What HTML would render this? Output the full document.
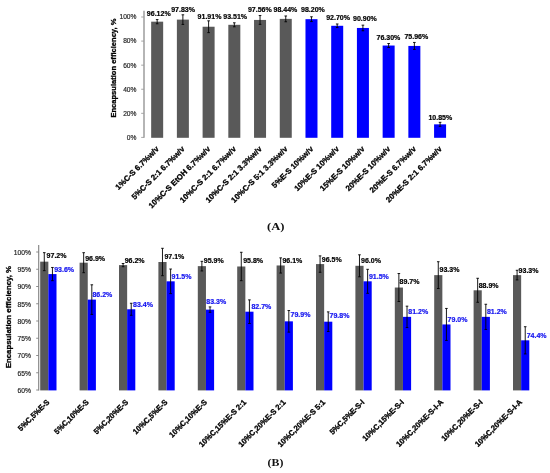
<!DOCTYPE html>
<html lang="en"><head><meta charset="utf-8"><title>Encapsulation efficiency</title>
<style>html,body{margin:0;padding:0;background:#fff}svg{display:block}.sans{font-family:"Liberation Sans",Arial,sans-serif}.serif{font-family:"Liberation Serif","Times New Roman",serif}</style></head>
<body>
<svg width="550" height="473" viewBox="0 0 550 473">
<rect width="550" height="473" fill="#fff"/>
<g class="sans">
<path d="M144.0 10.8V137.8" stroke="#9c9c9c" stroke-width="1.5" fill="none"/>
<path d="M141.2 137.40H144.0" stroke="#9c9c9c" stroke-width="0.9"/>
<text transform="translate(136.50 139.80) scale(0.92 1)" font-size="7.25" fill="#222" stroke="#222" stroke-width="0.18" text-anchor="end">0%</text>
<path d="M141.2 113.32H144.0" stroke="#9c9c9c" stroke-width="0.9"/>
<text transform="translate(136.50 115.72) scale(0.92 1)" font-size="7.25" fill="#222" stroke="#222" stroke-width="0.18" text-anchor="end">20%</text>
<path d="M141.2 89.24H144.0" stroke="#9c9c9c" stroke-width="0.9"/>
<text transform="translate(136.50 91.64) scale(0.92 1)" font-size="7.25" fill="#222" stroke="#222" stroke-width="0.18" text-anchor="end">40%</text>
<path d="M141.2 65.16H144.0" stroke="#9c9c9c" stroke-width="0.9"/>
<text transform="translate(136.50 67.56) scale(0.92 1)" font-size="7.25" fill="#222" stroke="#222" stroke-width="0.18" text-anchor="end">60%</text>
<path d="M141.2 41.08H144.0" stroke="#9c9c9c" stroke-width="0.9"/>
<text transform="translate(136.50 43.48) scale(0.92 1)" font-size="7.25" fill="#222" stroke="#222" stroke-width="0.18" text-anchor="end">80%</text>
<path d="M141.2 17.00H144.0" stroke="#9c9c9c" stroke-width="0.9"/>
<text transform="translate(136.50 19.40) scale(0.92 1)" font-size="7.25" fill="#222" stroke="#222" stroke-width="0.18" text-anchor="end">100%</text>
<text transform="translate(115.6 68.1) rotate(-90)" font-size="7.9" font-weight="bold" fill="#000" stroke="#000" stroke-width="0.3" text-anchor="middle" textLength="99" lengthAdjust="spacingAndGlyphs">Encapsulation efficiency, %</text>
<rect x="151.16" y="21.67" width="12.0" height="116.13" fill="#595959"/>
<path d="M157.16 19.57V23.77M155.86 19.57h2.6M155.86 23.77h2.6" stroke="#000" stroke-width="0.9" fill="none"/>
<text transform="translate(158.76 16.00) scale(0.97 1)" font-size="7.25" font-weight="bold" fill="#000" stroke="#000" stroke-width="0.2" text-anchor="middle">96.12%</text>
<text transform="translate(159.46 149.50) rotate(-45) scale(1.011 1)" font-size="7.8" font-weight="bold" fill="#000" stroke="#000" stroke-width="0.3" text-anchor="end">1%C-S 6.7%w/v</text>
<rect x="176.88" y="19.61" width="12.0" height="118.19" fill="#595959"/>
<path d="M182.88 14.81V24.41M181.58 14.81h2.6M181.58 24.41h2.6" stroke="#000" stroke-width="0.9" fill="none"/>
<text transform="translate(183.08 12.40) scale(0.97 1)" font-size="7.25" font-weight="bold" fill="#000" stroke="#000" stroke-width="0.2" text-anchor="middle">97.83%</text>
<text transform="translate(185.18 149.50) rotate(-45) scale(1.011 1)" font-size="7.8" font-weight="bold" fill="#000" stroke="#000" stroke-width="0.3" text-anchor="end">5%C-S 2:1 6.7%w/v</text>
<rect x="202.60" y="26.74" width="12.0" height="111.06" fill="#595959"/>
<path d="M208.60 20.84V32.64M207.30 20.84h2.6M207.30 32.64h2.6" stroke="#000" stroke-width="0.9" fill="none"/>
<text transform="translate(209.50 18.80) scale(0.97 1)" font-size="7.25" font-weight="bold" fill="#000" stroke="#000" stroke-width="0.2" text-anchor="middle">91.91%</text>
<text transform="translate(210.90 149.50) rotate(-45) scale(1.006 1)" font-size="7.8" font-weight="bold" fill="#000" stroke="#000" stroke-width="0.3" text-anchor="end">10%C-S EtOH 6.7%w/v</text>
<rect x="228.32" y="24.81" width="12.0" height="112.99" fill="#595959"/>
<path d="M234.32 22.81V26.81M233.02 22.81h2.6M233.02 26.81h2.6" stroke="#000" stroke-width="0.9" fill="none"/>
<text transform="translate(235.12 19.30) scale(0.97 1)" font-size="7.25" font-weight="bold" fill="#000" stroke="#000" stroke-width="0.2" text-anchor="middle">93.51%</text>
<text transform="translate(236.62 149.50) rotate(-45) scale(1.013 1)" font-size="7.8" font-weight="bold" fill="#000" stroke="#000" stroke-width="0.3" text-anchor="end">10%C-S 2:1 6.7%w/v</text>
<rect x="254.04" y="19.94" width="12.0" height="117.86" fill="#595959"/>
<path d="M260.04 15.54V24.34M258.74 15.54h2.6M258.74 24.34h2.6" stroke="#000" stroke-width="0.9" fill="none"/>
<text transform="translate(259.84 12.40) scale(0.97 1)" font-size="7.25" font-weight="bold" fill="#000" stroke="#000" stroke-width="0.2" text-anchor="middle">97.56%</text>
<text transform="translate(262.34 149.50) rotate(-45) scale(1.013 1)" font-size="7.8" font-weight="bold" fill="#000" stroke="#000" stroke-width="0.3" text-anchor="end">10%C-S 2:1 3.3%w/v</text>
<rect x="279.76" y="18.88" width="12.0" height="118.92" fill="#595959"/>
<path d="M285.76 15.98V21.78M284.46 15.98h2.6M284.46 21.78h2.6" stroke="#000" stroke-width="0.9" fill="none"/>
<text transform="translate(285.46 12.40) scale(0.97 1)" font-size="7.25" font-weight="bold" fill="#000" stroke="#000" stroke-width="0.2" text-anchor="middle">98.44%</text>
<text transform="translate(288.06 149.50) rotate(-45) scale(1.013 1)" font-size="7.8" font-weight="bold" fill="#000" stroke="#000" stroke-width="0.3" text-anchor="end">10%C-S 5:1 3.3%w/v</text>
<rect x="305.48" y="19.17" width="12.0" height="118.63" fill="#0000ff"/>
<path d="M311.48 16.77V21.57M310.18 16.77h2.6M310.18 21.57h2.6" stroke="#000" stroke-width="0.9" fill="none"/>
<text transform="translate(312.88 12.40) scale(0.97 1)" font-size="7.25" font-weight="bold" fill="#000" stroke="#000" stroke-width="0.2" text-anchor="middle">98.20%</text>
<text transform="translate(313.78 149.50) rotate(-45) scale(1.008 1)" font-size="7.8" font-weight="bold" fill="#000" stroke="#000" stroke-width="0.3" text-anchor="end">5%E-S 10%w/v</text>
<rect x="331.20" y="25.79" width="12.0" height="112.01" fill="#0000ff"/>
<path d="M337.20 23.99V27.59M335.90 23.99h2.6M335.90 27.59h2.6" stroke="#000" stroke-width="0.9" fill="none"/>
<text transform="translate(338.10 20.10) scale(0.97 1)" font-size="7.25" font-weight="bold" fill="#000" stroke="#000" stroke-width="0.2" text-anchor="middle">92.70%</text>
<text transform="translate(339.50 149.50) rotate(-45) scale(1.012 1)" font-size="7.8" font-weight="bold" fill="#000" stroke="#000" stroke-width="0.3" text-anchor="end">10%E-S 10%w/v</text>
<rect x="356.92" y="27.96" width="12.0" height="109.84" fill="#0000ff"/>
<path d="M362.92 25.16V30.76M361.62 25.16h2.6M361.62 30.76h2.6" stroke="#000" stroke-width="0.9" fill="none"/>
<text transform="translate(364.92 21.30) scale(0.97 1)" font-size="7.25" font-weight="bold" fill="#000" stroke="#000" stroke-width="0.2" text-anchor="middle">90.90%</text>
<text transform="translate(365.22 149.50) rotate(-45) scale(1.012 1)" font-size="7.8" font-weight="bold" fill="#000" stroke="#000" stroke-width="0.3" text-anchor="end">15%E-S 10%w/v</text>
<rect x="382.64" y="45.53" width="12.0" height="92.27" fill="#0000ff"/>
<path d="M388.64 43.53V47.53M387.34 43.53h2.6M387.34 47.53h2.6" stroke="#000" stroke-width="0.9" fill="none"/>
<text transform="translate(388.44 39.50) scale(0.97 1)" font-size="7.25" font-weight="bold" fill="#000" stroke="#000" stroke-width="0.2" text-anchor="middle">76.30%</text>
<text transform="translate(390.94 149.50) rotate(-45) scale(1.012 1)" font-size="7.8" font-weight="bold" fill="#000" stroke="#000" stroke-width="0.3" text-anchor="end">20%E-S 10%w/v</text>
<rect x="408.36" y="45.94" width="12.0" height="91.86" fill="#0000ff"/>
<path d="M414.36 42.44V49.44M413.06 42.44h2.6M413.06 49.44h2.6" stroke="#000" stroke-width="0.9" fill="none"/>
<text transform="translate(416.36 39.00) scale(0.97 1)" font-size="7.25" font-weight="bold" fill="#000" stroke="#000" stroke-width="0.2" text-anchor="middle">75.96%</text>
<text transform="translate(416.66 149.50) rotate(-45) scale(1.015 1)" font-size="7.8" font-weight="bold" fill="#000" stroke="#000" stroke-width="0.3" text-anchor="end">20%E-S 6.7%w/v</text>
<rect x="434.08" y="124.34" width="12.0" height="13.46" fill="#0000ff"/>
<path d="M440.08 122.34V126.34M438.78 122.34h2.6M438.78 126.34h2.6" stroke="#000" stroke-width="0.9" fill="none"/>
<text transform="translate(440.28 119.50) scale(0.97 1)" font-size="7.25" font-weight="bold" fill="#000" stroke="#000" stroke-width="0.2" text-anchor="middle">10.85%</text>
<text transform="translate(442.38 149.50) rotate(-45) scale(1.014 1)" font-size="7.8" font-weight="bold" fill="#000" stroke="#000" stroke-width="0.3" text-anchor="end">20%E-S 2:1 6.7%w/v</text>
</g>
<text x="275.8" y="229.8" class="serif" font-weight="bold" font-size="11.2" fill="#111" text-anchor="middle" textLength="17.5" lengthAdjust="spacingAndGlyphs">(A)</text>
<g class="sans">
<path d="M38.7 245.1V390.4" stroke="#808080" stroke-width="1.1" fill="none"/>
<path d="M36.2 390.00H38.7" stroke="#808080" stroke-width="0.9"/>
<text transform="translate(30.90 392.80) scale(0.93 1)" font-size="7.25" fill="#222" stroke="#222" stroke-width="0.18" text-anchor="end">60%</text>
<path d="M36.2 372.75H38.7" stroke="#808080" stroke-width="0.9"/>
<text transform="translate(30.90 375.55) scale(0.93 1)" font-size="7.25" fill="#222" stroke="#222" stroke-width="0.18" text-anchor="end">65%</text>
<path d="M36.2 355.50H38.7" stroke="#808080" stroke-width="0.9"/>
<text transform="translate(30.90 358.30) scale(0.93 1)" font-size="7.25" fill="#222" stroke="#222" stroke-width="0.18" text-anchor="end">70%</text>
<path d="M36.2 338.25H38.7" stroke="#808080" stroke-width="0.9"/>
<text transform="translate(30.90 341.05) scale(0.93 1)" font-size="7.25" fill="#222" stroke="#222" stroke-width="0.18" text-anchor="end">75%</text>
<path d="M36.2 321.00H38.7" stroke="#808080" stroke-width="0.9"/>
<text transform="translate(30.90 323.80) scale(0.93 1)" font-size="7.25" fill="#222" stroke="#222" stroke-width="0.18" text-anchor="end">80%</text>
<path d="M36.2 303.75H38.7" stroke="#808080" stroke-width="0.9"/>
<text transform="translate(30.90 306.55) scale(0.93 1)" font-size="7.25" fill="#222" stroke="#222" stroke-width="0.18" text-anchor="end">85%</text>
<path d="M36.2 286.50H38.7" stroke="#808080" stroke-width="0.9"/>
<text transform="translate(30.90 289.30) scale(0.93 1)" font-size="7.25" fill="#222" stroke="#222" stroke-width="0.18" text-anchor="end">90%</text>
<path d="M36.2 269.25H38.7" stroke="#808080" stroke-width="0.9"/>
<text transform="translate(30.90 272.05) scale(0.93 1)" font-size="7.25" fill="#222" stroke="#222" stroke-width="0.18" text-anchor="end">95%</text>
<path d="M36.2 252.00H38.7" stroke="#808080" stroke-width="0.9"/>
<text transform="translate(30.90 254.80) scale(0.93 1)" font-size="7.25" fill="#222" stroke="#222" stroke-width="0.18" text-anchor="end">100%</text>
<text transform="translate(10.7 317.1) rotate(-90)" font-size="8.1" font-weight="bold" fill="#000" stroke="#000" stroke-width="0.3" text-anchor="middle" textLength="102.3" lengthAdjust="spacingAndGlyphs">Encapsulation efficiency, %</text>
<rect x="40.20" y="261.66" width="8.15" height="128.74" fill="#595959"/>
<rect x="48.35" y="274.08" width="8.15" height="116.32" fill="#0000ff"/>
<path d="M44.28 252.66V270.66M42.98 252.66h2.6M42.98 270.66h2.6" stroke="#000" stroke-width="0.9" fill="none"/>
<path d="M52.43 267.48V280.68M51.13 267.48h2.6M51.13 280.68h2.6" stroke="#000" stroke-width="0.9" fill="none"/>
<text transform="translate(46.60 258.20) scale(0.97 1)" font-size="7.25" font-weight="bold" fill="#000" stroke="#000" stroke-width="0.2">97.2%</text>
<text transform="translate(54.20 271.70) scale(0.97 1)" font-size="7.25" font-weight="bold" fill="#1414f0" stroke="#1414f0" stroke-width="0.2">93.6%</text>
<text transform="translate(49.85 402.70) rotate(-45) scale(0.94 1)" font-size="7.8" font-weight="bold" fill="#000" stroke="#000" stroke-width="0.3" text-anchor="end">5%C,5%E-S</text>
<rect x="79.60" y="262.69" width="8.15" height="127.71" fill="#595959"/>
<rect x="87.75" y="299.61" width="8.15" height="90.79" fill="#0000ff"/>
<path d="M83.67 252.69V272.69M82.38 252.69h2.6M82.38 272.69h2.6" stroke="#000" stroke-width="0.9" fill="none"/>
<path d="M91.82 284.81V314.41M90.52 284.81h2.6M90.52 314.41h2.6" stroke="#000" stroke-width="0.9" fill="none"/>
<text transform="translate(85.20 260.70) scale(0.97 1)" font-size="7.25" font-weight="bold" fill="#000" stroke="#000" stroke-width="0.2">96.9%</text>
<text transform="translate(92.40 296.60) scale(0.97 1)" font-size="7.25" font-weight="bold" fill="#1414f0" stroke="#1414f0" stroke-width="0.2">86.2%</text>
<text transform="translate(89.25 402.70) rotate(-45) scale(0.95 1)" font-size="7.8" font-weight="bold" fill="#000" stroke="#000" stroke-width="0.3" text-anchor="end">5%C,10%E-S</text>
<rect x="119.00" y="265.11" width="8.15" height="125.29" fill="#595959"/>
<rect x="127.15" y="309.27" width="8.15" height="81.13" fill="#0000ff"/>
<path d="M123.08 263.51V266.71M121.78 263.51h2.6M121.78 266.71h2.6" stroke="#000" stroke-width="0.9" fill="none"/>
<path d="M131.22 303.27V315.27M129.92 303.27h2.6M129.92 315.27h2.6" stroke="#000" stroke-width="0.9" fill="none"/>
<text transform="translate(124.70 262.80) scale(0.97 1)" font-size="7.25" font-weight="bold" fill="#000" stroke="#000" stroke-width="0.2">96.2%</text>
<text transform="translate(133.00 306.80) scale(0.97 1)" font-size="7.25" font-weight="bold" fill="#1414f0" stroke="#1414f0" stroke-width="0.2">83.4%</text>
<text transform="translate(128.65 402.70) rotate(-45) scale(0.95 1)" font-size="7.8" font-weight="bold" fill="#000" stroke="#000" stroke-width="0.3" text-anchor="end">5%C,20%E-S</text>
<rect x="158.40" y="262.00" width="8.15" height="128.40" fill="#595959"/>
<rect x="166.55" y="281.32" width="8.15" height="109.08" fill="#0000ff"/>
<path d="M162.47 248.31V275.70M161.17 248.31h2.6M161.17 275.70h2.6" stroke="#000" stroke-width="0.9" fill="none"/>
<path d="M170.62 269.02V293.62M169.32 269.02h2.6M169.32 293.62h2.6" stroke="#000" stroke-width="0.9" fill="none"/>
<text transform="translate(164.40 259.00) scale(0.97 1)" font-size="7.25" font-weight="bold" fill="#000" stroke="#000" stroke-width="0.2">97.1%</text>
<text transform="translate(171.50 279.10) scale(0.97 1)" font-size="7.25" font-weight="bold" fill="#1414f0" stroke="#1414f0" stroke-width="0.2">91.5%</text>
<text transform="translate(168.05 402.70) rotate(-45) scale(0.95 1)" font-size="7.8" font-weight="bold" fill="#000" stroke="#000" stroke-width="0.3" text-anchor="end">10%C,5%E-S</text>
<rect x="197.80" y="266.14" width="8.15" height="124.26" fill="#595959"/>
<rect x="205.95" y="309.62" width="8.15" height="80.78" fill="#0000ff"/>
<path d="M201.88 261.34V270.94M200.57 261.34h2.6M200.57 270.94h2.6" stroke="#000" stroke-width="0.9" fill="none"/>
<path d="M210.03 306.92V312.31M208.72 306.92h2.6M208.72 312.31h2.6" stroke="#000" stroke-width="0.9" fill="none"/>
<text transform="translate(203.80 263.40) scale(0.97 1)" font-size="7.25" font-weight="bold" fill="#000" stroke="#000" stroke-width="0.2">95.9%</text>
<text transform="translate(206.30 304.00) scale(0.97 1)" font-size="7.25" font-weight="bold" fill="#1414f0" stroke="#1414f0" stroke-width="0.2">83.3%</text>
<text transform="translate(207.45 402.70) rotate(-45) scale(0.958 1)" font-size="7.8" font-weight="bold" fill="#000" stroke="#000" stroke-width="0.3" text-anchor="end">10%C,10%E-S</text>
<rect x="237.20" y="266.49" width="8.15" height="123.91" fill="#595959"/>
<rect x="245.35" y="311.69" width="8.15" height="78.72" fill="#0000ff"/>
<path d="M241.27 252.29V280.69M239.97 252.29h2.6M239.97 280.69h2.6" stroke="#000" stroke-width="0.9" fill="none"/>
<path d="M249.42 299.88V323.49M248.12 299.88h2.6M248.12 323.49h2.6" stroke="#000" stroke-width="0.9" fill="none"/>
<text transform="translate(243.20 263.30) scale(0.97 1)" font-size="7.25" font-weight="bold" fill="#000" stroke="#000" stroke-width="0.2">95.8%</text>
<text transform="translate(251.40 309.10) scale(0.97 1)" font-size="7.25" font-weight="bold" fill="#1414f0" stroke="#1414f0" stroke-width="0.2">82.7%</text>
<text transform="translate(246.85 402.70) rotate(-45) scale(0.969 1)" font-size="7.8" font-weight="bold" fill="#000" stroke="#000" stroke-width="0.3" text-anchor="end">10%C,15%E-S 2:1</text>
<rect x="276.60" y="265.46" width="8.15" height="124.94" fill="#595959"/>
<rect x="284.75" y="321.34" width="8.15" height="69.06" fill="#0000ff"/>
<path d="M280.67 257.86V273.06M279.37 257.86h2.6M279.37 273.06h2.6" stroke="#000" stroke-width="0.9" fill="none"/>
<path d="M288.82 310.54V332.14M287.52 310.54h2.6M287.52 332.14h2.6" stroke="#000" stroke-width="0.9" fill="none"/>
<text transform="translate(282.40 262.80) scale(0.97 1)" font-size="7.25" font-weight="bold" fill="#000" stroke="#000" stroke-width="0.2">96.1%</text>
<text transform="translate(290.50 317.00) scale(0.97 1)" font-size="7.25" font-weight="bold" fill="#1414f0" stroke="#1414f0" stroke-width="0.2">79.9%</text>
<text transform="translate(286.25 402.70) rotate(-45) scale(0.969 1)" font-size="7.8" font-weight="bold" fill="#000" stroke="#000" stroke-width="0.3" text-anchor="end">10%C,20%E-S 2:1</text>
<rect x="316.00" y="264.07" width="8.15" height="126.33" fill="#595959"/>
<rect x="324.15" y="321.69" width="8.15" height="68.71" fill="#0000ff"/>
<path d="M320.07 255.88V272.27M318.77 255.88h2.6M318.77 272.27h2.6" stroke="#000" stroke-width="0.9" fill="none"/>
<path d="M328.23 311.89V331.49M326.93 311.89h2.6M326.93 331.49h2.6" stroke="#000" stroke-width="0.9" fill="none"/>
<text transform="translate(321.80 261.50) scale(0.97 1)" font-size="7.25" font-weight="bold" fill="#000" stroke="#000" stroke-width="0.2">96.5%</text>
<text transform="translate(329.50 318.20) scale(0.97 1)" font-size="7.25" font-weight="bold" fill="#1414f0" stroke="#1414f0" stroke-width="0.2">79.8%</text>
<text transform="translate(325.65 402.70) rotate(-45) scale(0.969 1)" font-size="7.8" font-weight="bold" fill="#000" stroke="#000" stroke-width="0.3" text-anchor="end">10%C,20%E-S 5:1</text>
<rect x="355.40" y="265.80" width="8.15" height="124.60" fill="#595959"/>
<rect x="363.55" y="281.32" width="8.15" height="109.08" fill="#0000ff"/>
<path d="M359.47 254.80V276.80M358.17 254.80h2.6M358.17 276.80h2.6" stroke="#000" stroke-width="0.9" fill="none"/>
<path d="M367.62 269.32V293.32M366.32 269.32h2.6M366.32 293.32h2.6" stroke="#000" stroke-width="0.9" fill="none"/>
<text transform="translate(361.00 262.80) scale(0.97 1)" font-size="7.25" font-weight="bold" fill="#000" stroke="#000" stroke-width="0.2">96.0%</text>
<text transform="translate(368.90 278.50) scale(0.97 1)" font-size="7.25" font-weight="bold" fill="#1414f0" stroke="#1414f0" stroke-width="0.2">91.5%</text>
<text transform="translate(365.05 402.70) rotate(-45) scale(0.954 1)" font-size="7.8" font-weight="bold" fill="#000" stroke="#000" stroke-width="0.3" text-anchor="end">5%C,5%E-S-I</text>
<rect x="394.80" y="287.53" width="8.15" height="102.87" fill="#595959"/>
<rect x="402.95" y="316.86" width="8.15" height="73.54" fill="#0000ff"/>
<path d="M398.87 273.53V301.53M397.57 273.53h2.6M397.57 301.53h2.6" stroke="#000" stroke-width="0.9" fill="none"/>
<path d="M407.02 306.16V327.56M405.72 306.16h2.6M405.72 327.56h2.6" stroke="#000" stroke-width="0.9" fill="none"/>
<text transform="translate(399.60 284.30) scale(0.97 1)" font-size="7.25" font-weight="bold" fill="#000" stroke="#000" stroke-width="0.2">89.7%</text>
<text transform="translate(408.30 314.20) scale(0.97 1)" font-size="7.25" font-weight="bold" fill="#1414f0" stroke="#1414f0" stroke-width="0.2">81.2%</text>
<text transform="translate(404.45 402.70) rotate(-45) scale(0.969 1)" font-size="7.8" font-weight="bold" fill="#000" stroke="#000" stroke-width="0.3" text-anchor="end">10%C,15%E-S-I</text>
<rect x="434.20" y="275.12" width="8.15" height="115.28" fill="#595959"/>
<rect x="442.35" y="324.45" width="8.15" height="65.95" fill="#0000ff"/>
<path d="M438.27 261.72V288.51M436.97 261.72h2.6M436.97 288.51h2.6" stroke="#000" stroke-width="0.9" fill="none"/>
<path d="M446.43 308.45V340.45M445.12 308.45h2.6M445.12 340.45h2.6" stroke="#000" stroke-width="0.9" fill="none"/>
<text transform="translate(439.50 271.50) scale(0.97 1)" font-size="7.25" font-weight="bold" fill="#000" stroke="#000" stroke-width="0.2">93.3%</text>
<text transform="translate(447.60 321.50) scale(0.97 1)" font-size="7.25" font-weight="bold" fill="#1414f0" stroke="#1414f0" stroke-width="0.2">79.0%</text>
<text transform="translate(443.85 402.70) rotate(-45) scale(0.972 1)" font-size="7.8" font-weight="bold" fill="#000" stroke="#000" stroke-width="0.3" text-anchor="end">10%C,20%E-S-I-A</text>
<rect x="473.60" y="290.29" width="8.15" height="100.11" fill="#595959"/>
<rect x="481.75" y="316.86" width="8.15" height="73.54" fill="#0000ff"/>
<path d="M477.67 278.29V302.29M476.37 278.29h2.6M476.37 302.29h2.6" stroke="#000" stroke-width="0.9" fill="none"/>
<path d="M485.82 304.26V329.46M484.52 304.26h2.6M484.52 329.46h2.6" stroke="#000" stroke-width="0.9" fill="none"/>
<text transform="translate(478.70 288.10) scale(0.97 1)" font-size="7.25" font-weight="bold" fill="#000" stroke="#000" stroke-width="0.2">88.9%</text>
<text transform="translate(486.90 314.20) scale(0.97 1)" font-size="7.25" font-weight="bold" fill="#1414f0" stroke="#1414f0" stroke-width="0.2">81.2%</text>
<text transform="translate(483.25 402.70) rotate(-45) scale(0.969 1)" font-size="7.8" font-weight="bold" fill="#000" stroke="#000" stroke-width="0.3" text-anchor="end">10%C,20%E-S-I</text>
<rect x="513.00" y="275.12" width="8.15" height="115.28" fill="#595959"/>
<rect x="521.15" y="340.32" width="8.15" height="50.08" fill="#0000ff"/>
<path d="M517.08 270.31V279.92M515.78 270.31h2.6M515.78 279.92h2.6" stroke="#000" stroke-width="0.9" fill="none"/>
<path d="M525.23 326.72V353.92M523.93 326.72h2.6M523.93 353.92h2.6" stroke="#000" stroke-width="0.9" fill="none"/>
<text transform="translate(518.60 272.60) scale(0.97 1)" font-size="7.25" font-weight="bold" fill="#000" stroke="#000" stroke-width="0.2">93.3%</text>
<text transform="translate(526.70 337.50) scale(0.97 1)" font-size="7.25" font-weight="bold" fill="#1414f0" stroke="#1414f0" stroke-width="0.2">74.4%</text>
<text transform="translate(522.65 402.70) rotate(-45) scale(0.972 1)" font-size="7.8" font-weight="bold" fill="#000" stroke="#000" stroke-width="0.3" text-anchor="end">10%C,20%E-S-I-A</text>
</g>
<text x="275.5" y="465.6" class="serif" font-weight="bold" font-size="11.2" fill="#111" text-anchor="middle" textLength="15.8" lengthAdjust="spacingAndGlyphs">(B)</text>
</svg>
</body></html>
